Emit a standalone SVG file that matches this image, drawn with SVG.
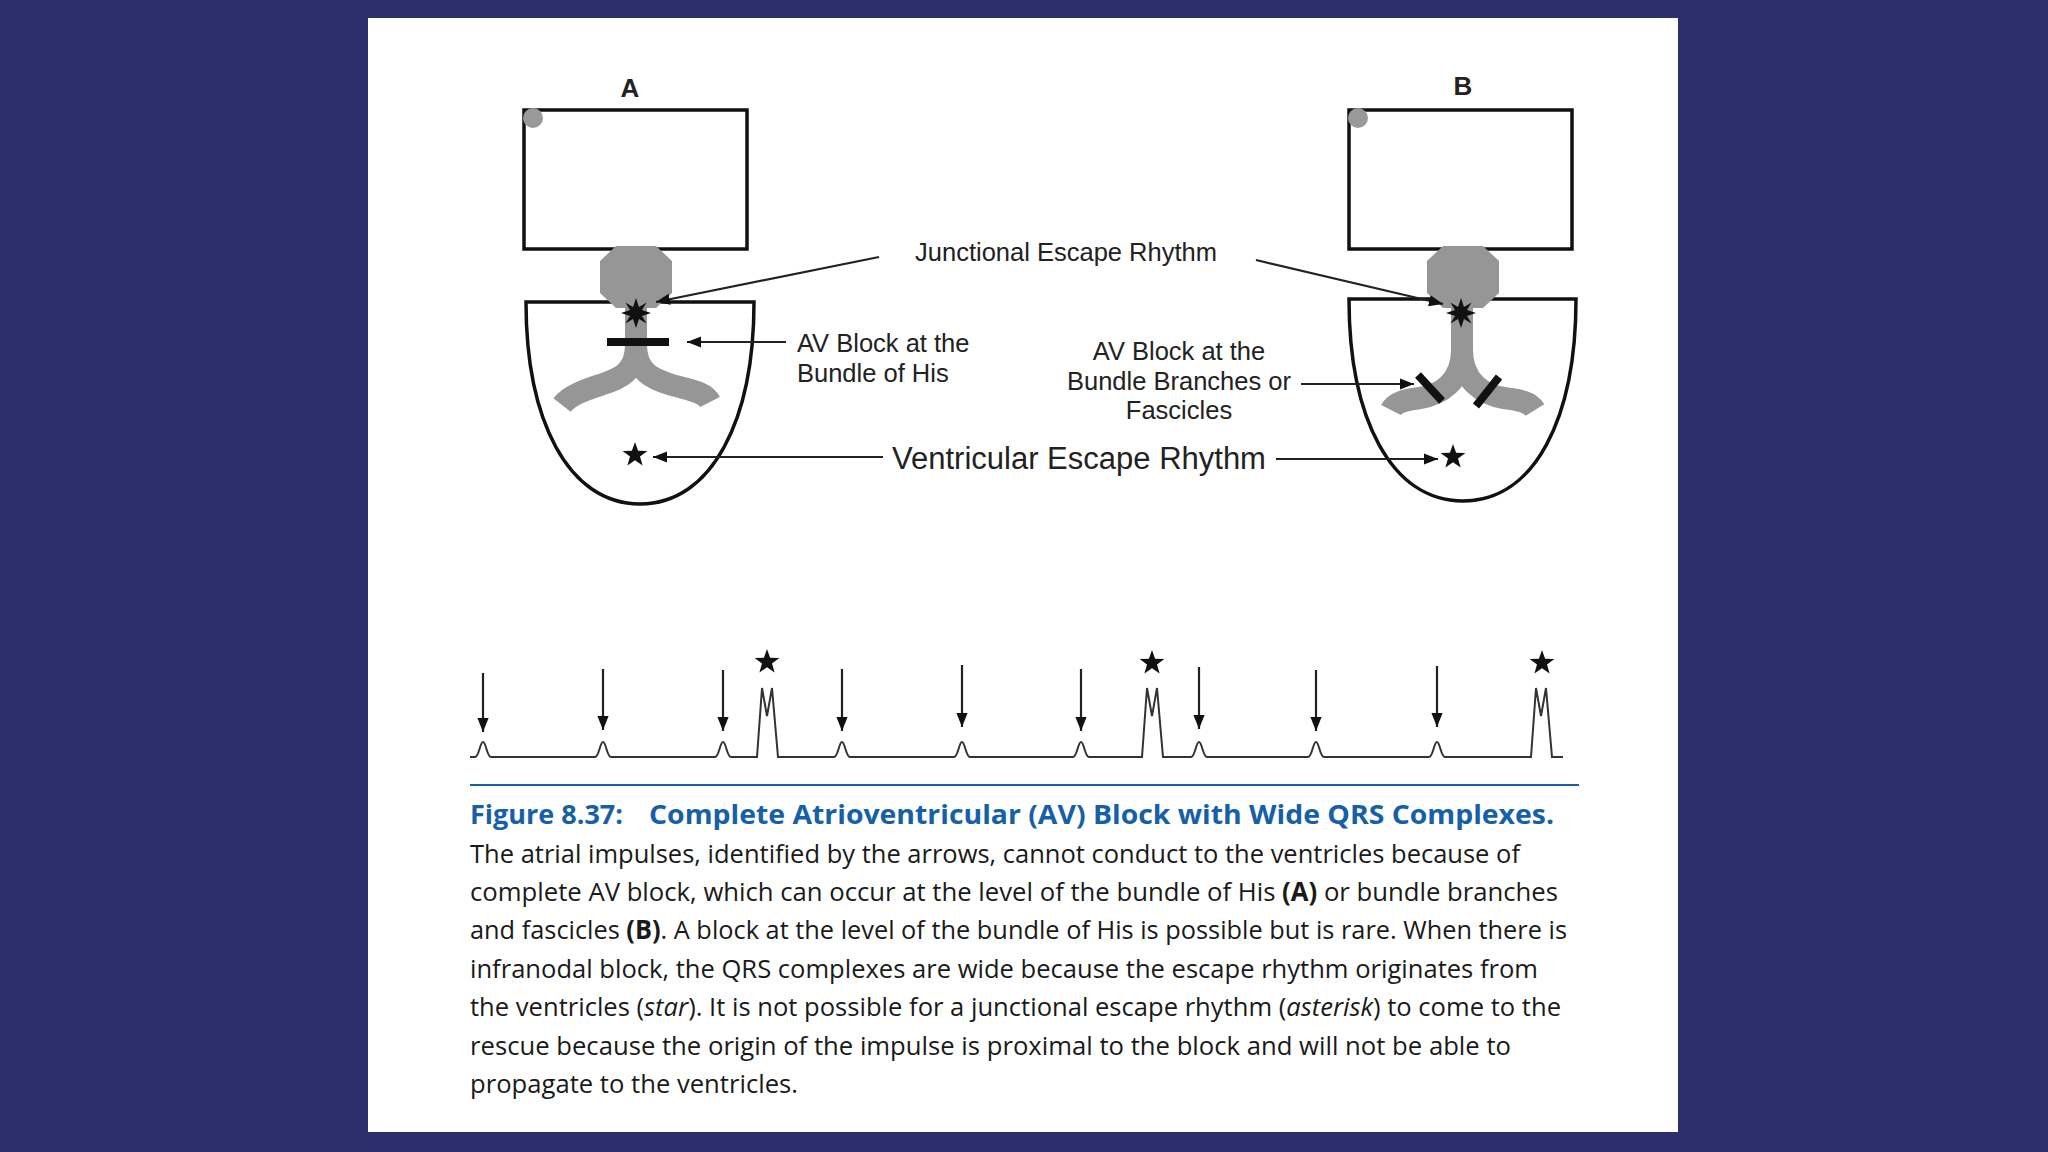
<svg xmlns="http://www.w3.org/2000/svg" width="2048" height="1152" viewBox="0 0 2048 1152">
<defs>
<style>
.lbl{font-family:"Liberation Sans",Arial,sans-serif;fill:#222}
.box{fill:#fff;stroke:#111;stroke-width:3.5}
.vent{fill:#fff;stroke:#111;stroke-width:3.5}
.gray{fill:#969696}
.br{fill:none;stroke:#969696;stroke-width:22}
.ln{stroke:#222;stroke-width:2.2;fill:none}
.blk{stroke:#111;stroke-width:8}
.ecg{fill:none;stroke:#333;stroke-width:2}
.cap{font-family:"Open Sans","Noto Sans",sans-serif;font-size:26px;fill:#1a1a1a}
.hd{font-family:"Open Sans","Noto Sans",sans-serif;font-size:27px;font-weight:bold;fill:#1560a8}
</style>
<marker id="ah2" viewBox="0 0 10 10" refX="10" refY="5" markerWidth="14" markerHeight="14" orient="auto" markerUnits="userSpaceOnUse">
<path d="M0,1 L10,5 L0,9 z" fill="#111"/>
</marker>
<polygon id="star" points="0,-13 3.1,-4.2 12.4,-4 5,1.6 7.6,10.5 0,5.2 -7.6,10.5 -5,1.6 -12.4,-4 -3.1,-4.2" fill="#111"/>
<g id="ast"><polygon points="0,-15 3,-6 10.6,-10.6 6,-3 15,0 6,3 10.6,10.6 3,6 0,15 -3,6 -10.6,10.6 -6,3 -15,0 -6,-3 -10.6,-10.6 -3,-6" fill="#111"/></g>
<polygon id="oct" points="-20,-31 20,-31 36,-16 36,16 20,31 -20,31 -36,16 -36,-16" class="gray"/>
</defs>
<rect width="2048" height="1152" fill="#2b2f6b"/>
<rect x="368" y="18" width="1310" height="1114" fill="#fff"/>

<g id="heartA">
<text x="630" y="97" class="lbl" font-size="26" font-weight="bold" text-anchor="middle">A</text>
<rect x="524" y="110" width="223" height="139" class="box"/>
<circle cx="533" cy="118" r="10" fill="#999"/>
<path d="M526,302 L754,302 C754,420 712,504 640,504 C568,504 526,420 526,302 Z" class="vent"/>
<use href="#oct" x="636" y="277"/>
<path d="M636,300 L636,345 C636,375 615,380 600,385 C585,390 570,395 562,405" class="br"/>
<path d="M636,345 C636,375 657,380 672,385 C690,390 705,392 710,402" class="br"/>
<line x1="607" y1="342" x2="669" y2="342" class="blk"/>
<use href="#ast" x="636" y="313"/>
<use href="#star" x="635" y="455"/>
</g>

<g id="heartB">
<text x="1463" y="95" class="lbl" font-size="26" font-weight="bold" text-anchor="middle">B</text>
<rect x="1349" y="110" width="223" height="139" class="box"/>
<circle cx="1358" cy="118" r="10" fill="#999"/>
<path d="M1349,299 L1576,299 C1576,418 1535,501 1463,501 C1391,501 1349,418 1349,299 Z" class="vent"/>
<use href="#oct" x="1463" y="277"/>
<path d="M1462,300 L1462,350 C1462,382 1440,395 1420,398 C1405,400 1395,402 1391,410" class="br"/>
<path d="M1462,350 C1462,382 1484,395 1504,398 C1520,400 1530,402 1535,410" class="br"/>
<line x1="1418" y1="375" x2="1442" y2="401" class="blk"/>
<line x1="1499" y1="377" x2="1476" y2="406" class="blk"/>
<use href="#ast" x="1461" y="313"/>
<use href="#star" x="1453" y="457"/>
</g>

<g id="labels">
<text x="1066" y="261" class="lbl" font-size="25.5" text-anchor="middle">Junctional Escape Rhythm</text>
<text x="797" y="352" class="lbl" font-size="25.5">AV Block at the</text>
<text x="797" y="382" class="lbl" font-size="25.5">Bundle of His</text>
<text x="1179" y="360" class="lbl" font-size="25.5" text-anchor="middle">AV Block at the</text>
<text x="1179" y="390" class="lbl" font-size="25.5" text-anchor="middle">Bundle Branches or</text>
<text x="1179" y="419" class="lbl" font-size="25.5" text-anchor="middle">Fascicles</text>
<text x="1079" y="469" class="lbl" font-size="31" text-anchor="middle">Ventricular Escape Rhythm</text>
</g>

<g id="connectors">
<line x1="879" y1="257" x2="656" y2="302" class="ln" marker-end="url(#ah2)"/>
<line x1="1256" y1="260" x2="1443" y2="304" class="ln" marker-end="url(#ah2)"/>
<line x1="786" y1="342" x2="687" y2="342" class="ln" stroke-width="3" marker-end="url(#ah2)"/>
<line x1="1301" y1="384" x2="1414" y2="384" class="ln" stroke-width="3" marker-end="url(#ah2)"/>
<line x1="883" y1="457" x2="653" y2="457" class="ln" marker-end="url(#ah2)"/>
<line x1="1276" y1="459" x2="1438" y2="459" class="ln" marker-end="url(#ah2)"/>
</g>

<g id="ecg">
<path class="ecg" d="M470,757 L475,757 C479,757 480,742 483,742 C486,742 487,757 491,757 L595,757 C599,757 600,742 603,742 C606,742 607,757 611,757 L715,757 C719,757 720,742 723,742 C726,742 727,757 731,757 L757,757 L762,688 L767,716 L772,688 L778,757 L834,757 C838,757 839,742 842,742 C845,742 846,757 850,757 L954,757 C958,757 959,742 962,742 C965,742 966,757 970,757 L1073,757 C1077,757 1078,742 1081,742 C1084,742 1085,757 1089,757 L1142,757 L1147,688 L1152,716 L1157,688 L1163,757 L1191,757 C1195,757 1196,742 1199,742 C1202,742 1203,757 1207,757 L1308,757 C1312,757 1313,742 1316,742 C1319,742 1320,757 1324,757 L1429,757 C1433,757 1434,742 1437,742 C1440,742 1441,757 1445,757 L1531,757 L1536,688 L1541,716 L1546,688 L1552,757 L1563,757"/>
<g class="ln" marker-end="url(#ah2)">
<line x1="483" y1="673" x2="483" y2="732"/>
<line x1="603" y1="669" x2="603" y2="730"/>
<line x1="723" y1="670" x2="723" y2="731"/>
<line x1="842" y1="669" x2="842" y2="731"/>
<line x1="962" y1="665" x2="962" y2="727"/>
<line x1="1081" y1="669" x2="1081" y2="731"/>
<line x1="1199" y1="667" x2="1199" y2="729"/>
<line x1="1316" y1="670" x2="1316" y2="731"/>
<line x1="1437" y1="666" x2="1437" y2="727"/>
</g>
<use href="#star" x="767" y="662"/>
<use href="#star" x="1152" y="663"/>
<use href="#star" x="1542" y="663"/>
</g>

<g id="caption">
<line x1="470" y1="785" x2="1579" y2="785" stroke="#1560a8" stroke-width="2"/>
<text x="470" y="824" class="hd" font-size="25">Figure 8.37:</text>
<text x="649" y="824" class="hd" textLength="905" lengthAdjust="spacingAndGlyphs">Complete Atrioventricular (AV) Block with Wide QRS Complexes.</text>
<text x="470" y="863" class="cap" textLength="1050" lengthAdjust="spacingAndGlyphs">The atrial impulses, identified by the arrows, cannot conduct to the ventricles because of</text>
<text x="470" y="901" class="cap" textLength="1088" lengthAdjust="spacingAndGlyphs">complete AV block, which can occur at the level of the bundle of His <tspan font-weight="bold">(A)</tspan> or bundle branches</text>
<text x="470" y="939" class="cap" textLength="1097" lengthAdjust="spacingAndGlyphs">and fascicles <tspan font-weight="bold">(B)</tspan>. A block at the level of the bundle of His is possible but is rare. When there is</text>
<text x="470" y="978" class="cap" textLength="1068" lengthAdjust="spacingAndGlyphs">infranodal block, the QRS complexes are wide because the escape rhythm originates from</text>
<text x="470" y="1016" class="cap" textLength="1091" lengthAdjust="spacingAndGlyphs">the ventricles (<tspan font-style="italic">star</tspan>). It is not possible for a junctional escape rhythm (<tspan font-style="italic">asterisk</tspan>) to come to the</text>
<text x="470" y="1055" class="cap" textLength="1041" lengthAdjust="spacingAndGlyphs">rescue because the origin of the impulse is proximal to the block and will not be able to</text>
<text x="470" y="1093" class="cap" textLength="328" lengthAdjust="spacingAndGlyphs">propagate to the ventricles.</text>
</g>
</svg>
